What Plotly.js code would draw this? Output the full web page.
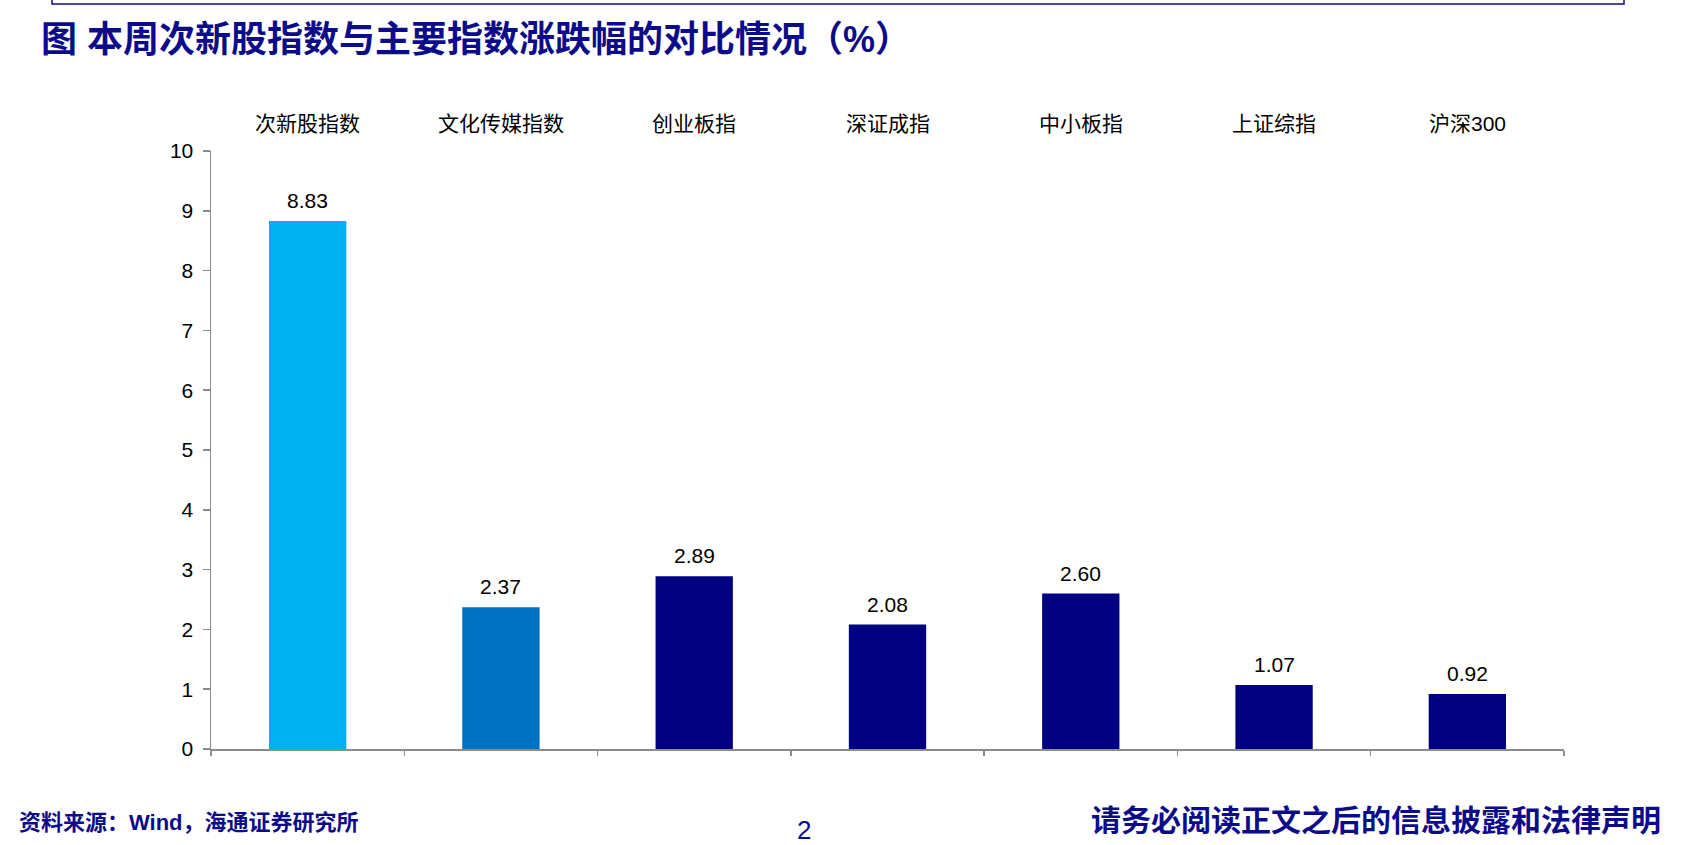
<!DOCTYPE html>
<html>
<head>
<meta charset="utf-8">
<script src="https://cdn.plot.ly/plotly-3.0.1.min.js"></script>
<style>
  html, body { margin: 0; padding: 0; background: #ffffff; }
  #chart { width: 1684px; height: 845px; }
</style>
</head>
<body>
<div id="chart"></div>
<script>
// ---- data ----
const categories = ["次新股指数", "文化传媒指数", "创业板指", "深证成指", "中小板指", "上证综指", "沪深300"];
const changes = [8.83, 2.37, 2.89, 2.08, 2.60, 1.07, 0.92];
const yTickValues = [0, 1, 2, 3, 4, 5, 6, 7, 8, 9, 10];

const titleText = "图 本周次新股指数与主要指数涨跌幅的对比情况（%）";
const sourceText = "资料来源：Wind，海通证券研究所";
const disclaimerText = "请务必阅读正文之后的信息披露和法律声明";
const pageNumber = "2";

// ---- styles ----
const barColors = ["#00B0F0", "#0070C0", "#000080", "#000080", "#000080", "#000080", "#000080"];
const navy = "#0c0c8a";
const axisGray = "#8c8c8c";

const W = 1684, H = 845;
const M = { l: 211, r: 120, t: 151, b: 96 };
const plotW = W - M.l - M.r, plotH = H - M.t - M.b;
const px2x = px => (px - M.l) / plotW;
const py2y = py => (H - M.b - py) / plotH;

const cjk = "Liberation Sans, Arial, Noto Sans CJK SC, sans-serif";

const trace = {
  type: "bar",
  x: categories,
  y: changes,
  marker: { color: barColors, line: { width: 0 } },
  hoverinfo: "x+y"
};

const annotations = [];
// value labels and category labels
categories.forEach((c, i) => {
  annotations.push({
    x: c, y: changes[i], xref: "x", yref: "y",
    text: changes[i].toFixed(2),
    showarrow: false, yanchor: "bottom", yshift: 7,
    font: { family: "Liberation Sans, Arial, sans-serif", size: 21, color: "#000000" }
  });
  annotations.push({
    x: c, y: py2y(123), xref: "x", yref: "paper",
    text: c, showarrow: false, yanchor: "middle",
    font: { family: cjk, size: 21, color: "#000000" }
  });
});
// footer
annotations.push({
  x: px2x(17), y: py2y(822), xref: "paper", yref: "paper",
  text: "<b>" + sourceText + "</b>", showarrow: false,
  xanchor: "left", yanchor: "middle",
  font: { family: cjk, size: 22, color: navy }
});
annotations.push({
  x: px2x(1663), y: py2y(820), xref: "paper", yref: "paper",
  text: "<b>" + disclaimerText + "</b>", showarrow: false,
  xanchor: "right", yanchor: "middle",
  font: { family: cjk, size: 30, color: navy }
});
annotations.push({
  x: px2x(804), y: py2y(830), xref: "paper", yref: "paper",
  text: pageNumber, showarrow: false,
  xanchor: "center", yanchor: "middle",
  font: { family: "Liberation Sans, Arial, sans-serif", size: 26, color: navy }
});

const layout = {
  width: W, height: H,
  margin: M,
  paper_bgcolor: "#ffffff",
  plot_bgcolor: "#ffffff",
  showlegend: false,
  bargap: 0.6,
  title: {
    text: "<b>" + titleText + "</b>",
    x: 41 / W, xref: "container", xanchor: "left",
    y: 1 - 39 / H, yref: "container", yanchor: "middle",
    font: { family: cjk, size: 36, color: navy }
  },
  xaxis: {
    type: "category",
    showline: true, linecolor: axisGray, linewidth: 1.5,
    ticks: "outside", tickson: "boundaries", ticklen: 5, tickcolor: axisGray, tickwidth: 1.5,
    showticklabels: false, showgrid: false, zeroline: false,
    fixedrange: true
  },
  yaxis: {
    range: [0, 10],
    tickvals: yTickValues,
    showline: true, linecolor: axisGray, linewidth: 1.5,
    ticks: "outside", ticklen: 7, tickcolor: axisGray, tickwidth: 1.5,
    ticklabelstandoff: 5,
    tickfont: { family: "Liberation Sans, Arial, sans-serif", size: 21, color: "#000000" },
    showgrid: false, zeroline: false,
    fixedrange: true
  },
  shapes: [
    {
      type: "rect", xref: "paper", yref: "paper",
      x0: px2x(52), x1: px2x(1624), y0: py2y(4), y1: py2y(-30),
      line: { color: navy, width: 1.5 }, fillcolor: "rgba(0,0,0,0)"
    }
  ],
  annotations: annotations
};

Plotly.newPlot("chart", [trace], layout, { displayModeBar: false, staticPlot: true });
</script>
</body>
</html>
